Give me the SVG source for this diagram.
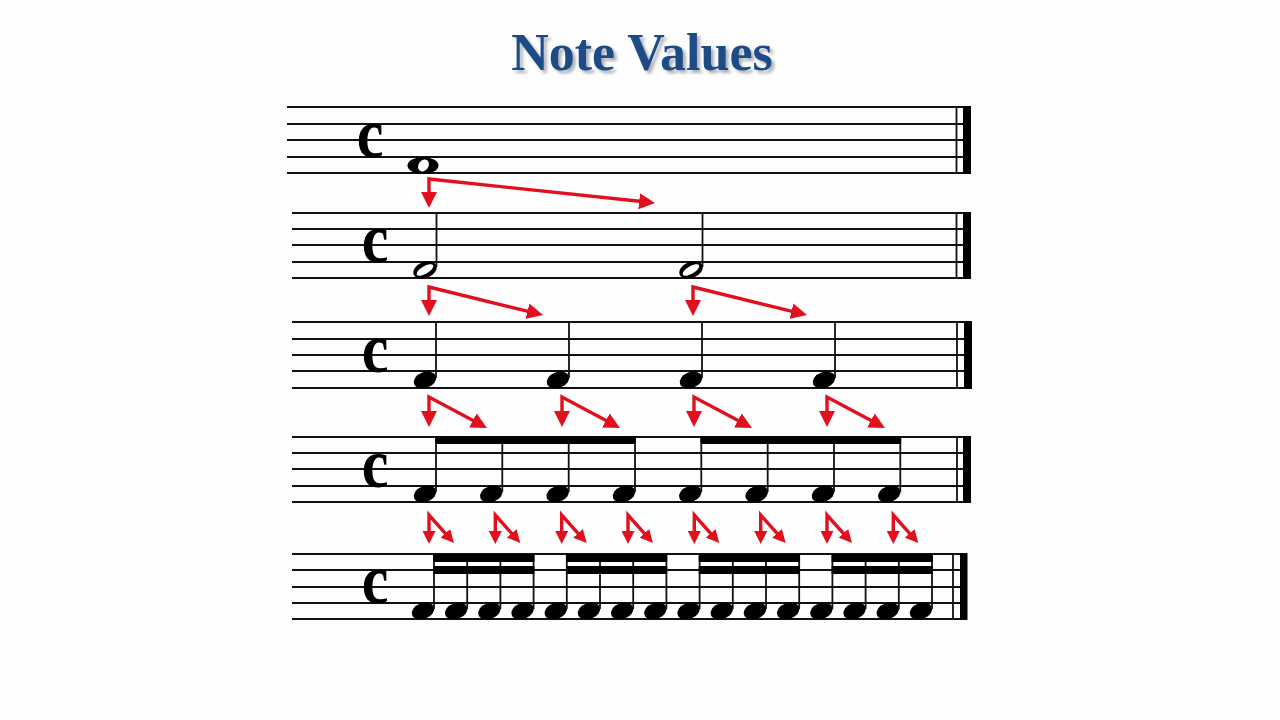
<svg xmlns="http://www.w3.org/2000/svg" xmlns:xlink="http://www.w3.org/1999/xlink" width="1280" height="720" viewBox="0 0 1280 720">
<defs>
<style>
.staff line{stroke:#111;stroke-width:1.8}
.stem{stroke:#000;stroke-width:1.7}
.thin{stroke:#000;stroke-width:2}
.thick{fill:#000}
.beam{fill:#000}
.tc{font-family:"Liberation Serif","Times New Roman",serif;font-weight:bold;font-size:70px;fill:#000}
.arr{fill:none;stroke:#E2101E;stroke-width:3.4;stroke-linejoin:miter}
.big{marker-start:url(#ah);marker-end:url(#ah)}
.sm{marker-start:url(#ahs);marker-end:url(#ahs)}
.title{font-family:"Liberation Serif","Times New Roman",serif;font-weight:bold;font-size:52px;fill:#1C4B86}
</style>
<filter id="shadow" x="-10%" y="-30%" width="120%" height="160%">
<feDropShadow dx="3" dy="3" stdDeviation="1.4" flood-color="#8a919c" flood-opacity="0.7"/>
</filter>
<marker id="ah" markerUnits="userSpaceOnUse" markerWidth="16" markerHeight="16" viewBox="0 0 16 16" refX="5" refY="8" orient="auto-start-reverse"><path d="M0,0 L16,8 L0,16 z" fill="#E2101E"/></marker>
<marker id="ahs" markerUnits="userSpaceOnUse" markerWidth="13" markerHeight="13" viewBox="0 0 13 13" refX="4" refY="6.5" orient="auto-start-reverse"><path d="M0,0 L13,6.5 L0,13 z" fill="#E2101E"/></marker>
<ellipse id="qh" cx="0" cy="0" rx="11.6" ry="8" transform="rotate(-20)" fill="#000"/>
<g id="hh"><ellipse cx="0" cy="0" rx="12.2" ry="8" transform="rotate(-22)" fill="#000"/><ellipse cx="0" cy="0" rx="9.4" ry="3.8" transform="rotate(-30)" fill="#fff"/></g>
</defs>
<rect width="1280" height="720" fill="#fefefe"/>

<g id="title"><text class="title" x="642" y="70" text-anchor="middle" filter="url(#shadow)">Note Values</text></g>

<g id="staff1" class="staff">
<line x1="287" y1="107" x2="971" y2="107"/><line x1="287" y1="124" x2="971" y2="124"/><line x1="287" y1="140" x2="971" y2="140"/><line x1="287" y1="157" x2="971" y2="157"/><line x1="287" y1="173" x2="971" y2="173"/>
<line class="thin" x1="956.5" y1="106.2" x2="956.5" y2="173.8"/><rect class="thick" x="963" y="106.2" width="8" height="67.6"/>
<text class="tc" transform="translate(370 157) scale(0.86 1)" text-anchor="middle">c</text>
<g id="whole"><ellipse cx="423" cy="165.5" rx="15.5" ry="8.6" fill="#000"/><ellipse cx="423.5" cy="165.5" rx="5" ry="6.4" transform="rotate(35 423.5 165.5)" fill="#fff"/></g>
</g>

<g id="staff2" class="staff">
<line x1="292" y1="213" x2="971" y2="213"/><line x1="292" y1="229" x2="971" y2="229"/><line x1="292" y1="245" x2="971" y2="245"/><line x1="292" y1="262" x2="971" y2="262"/><line x1="292" y1="278" x2="971" y2="278"/>
<line class="thin" x1="956.5" y1="212.2" x2="956.5" y2="278.8"/><rect class="thick" x="963" y="212.2" width="8" height="66.6"/>
<text class="tc" transform="translate(375 262) scale(0.86 1)" text-anchor="middle">c</text>
<g id="half1"><use href="#hh" x="425" y="270"/><line class="stem" x1="436.5" y1="213" x2="436.5" y2="267"/></g>
<g id="half2"><use href="#hh" x="691" y="270"/><line class="stem" x1="702.5" y1="213" x2="702.5" y2="267"/></g>
</g>

<g id="staff3" class="staff">
<line x1="292" y1="322" x2="972" y2="322"/><line x1="292" y1="339" x2="972" y2="339"/><line x1="292" y1="355" x2="972" y2="355"/><line x1="292" y1="371" x2="972" y2="371"/><line x1="292" y1="388" x2="972" y2="388"/>
<line class="thin" x1="957" y1="321.2" x2="957" y2="388.8"/><rect class="thick" x="964" y="321.2" width="8" height="67.6"/>
<text class="tc" transform="translate(375 372) scale(0.86 1)" text-anchor="middle">c</text>
<g id="quarters">
<use href="#qh" x="425" y="380"/><line class="stem" x1="436" y1="322" x2="436" y2="378"/>
<use href="#qh" x="558" y="380"/><line class="stem" x1="569" y1="322" x2="569" y2="378"/>
<use href="#qh" x="691" y="380"/><line class="stem" x1="702" y1="322" x2="702" y2="378"/>
<use href="#qh" x="824" y="380"/><line class="stem" x1="835" y1="322" x2="835" y2="378"/>
</g>
</g>

<g id="staff4" class="staff">
<line x1="292" y1="437" x2="971" y2="437"/><line x1="292" y1="453" x2="971" y2="453"/><line x1="292" y1="469" x2="971" y2="469"/><line x1="292" y1="486" x2="971" y2="486"/><line x1="292" y1="502" x2="971" y2="502"/>
<line class="thin" x1="957" y1="436.2" x2="957" y2="502.8"/><rect class="thick" x="963" y="436.2" width="8" height="66.6"/>
<text class="tc" transform="translate(375 487) scale(0.86 1)" text-anchor="middle">c</text>
<g id="eighths">
<use href="#qh" x="425" y="494"/><line class="stem" x1="436" y1="437" x2="436" y2="492"/>
<use href="#qh" x="491.3" y="494"/><line class="stem" x1="502.3" y1="437" x2="502.3" y2="492"/>
<use href="#qh" x="557.7" y="494"/><line class="stem" x1="568.7" y1="437" x2="568.7" y2="492"/>
<use href="#qh" x="624" y="494"/><line class="stem" x1="635" y1="437" x2="635" y2="492"/>
<rect class="beam" x="435.2" y="436.5" width="200.6" height="7.5"/>
<use href="#qh" x="690.3" y="494"/><line class="stem" x1="701.3" y1="437" x2="701.3" y2="492"/>
<use href="#qh" x="756.7" y="494"/><line class="stem" x1="767.7" y1="437" x2="767.7" y2="492"/>
<use href="#qh" x="823" y="494"/><line class="stem" x1="834" y1="437" x2="834" y2="492"/>
<use href="#qh" x="889.3" y="494"/><line class="stem" x1="900.3" y1="437" x2="900.3" y2="492"/>
<rect class="beam" x="700.5" y="436.5" width="200.6" height="7.5"/>
</g>
</g>

<g id="staff5" class="staff">
<line x1="292" y1="554" x2="967" y2="554"/><line x1="292" y1="570" x2="967" y2="570"/><line x1="292" y1="587" x2="967" y2="587"/><line x1="292" y1="603" x2="967" y2="603"/><line x1="292" y1="619" x2="967" y2="619"/>
<line class="thin" x1="953" y1="553.2" x2="953" y2="619.8"/><rect class="thick" x="960" y="553.2" width="7.5" height="66.6"/>
<text class="tc" transform="translate(375 603) scale(0.86 1)" text-anchor="middle">c</text>
<g id="sixteenths">
<use href="#qh" x="423" y="611"/><line class="stem" x1="434" y1="554" x2="434" y2="609"/>
<use href="#qh" x="456.2" y="611"/><line class="stem" x1="467.2" y1="554" x2="467.2" y2="609"/>
<use href="#qh" x="489.4" y="611"/><line class="stem" x1="500.4" y1="554" x2="500.4" y2="609"/>
<use href="#qh" x="522.6" y="611"/><line class="stem" x1="533.6" y1="554" x2="533.6" y2="609"/>
<rect class="beam" x="433.2" y="554" width="101.2" height="8"/><rect class="beam" x="433.2" y="566" width="101.2" height="8"/>
<use href="#qh" x="555.8" y="611"/><line class="stem" x1="566.8" y1="554" x2="566.8" y2="609"/>
<use href="#qh" x="589" y="611"/><line class="stem" x1="600" y1="554" x2="600" y2="609"/>
<use href="#qh" x="622.2" y="611"/><line class="stem" x1="633.2" y1="554" x2="633.2" y2="609"/>
<use href="#qh" x="655.4" y="611"/><line class="stem" x1="666.4" y1="554" x2="666.4" y2="609"/>
<rect class="beam" x="566" y="554" width="101.2" height="8"/><rect class="beam" x="566" y="566" width="101.2" height="8"/>
<use href="#qh" x="688.6" y="611"/><line class="stem" x1="699.6" y1="554" x2="699.6" y2="609"/>
<use href="#qh" x="721.8" y="611"/><line class="stem" x1="732.8" y1="554" x2="732.8" y2="609"/>
<use href="#qh" x="755" y="611"/><line class="stem" x1="766" y1="554" x2="766" y2="609"/>
<use href="#qh" x="788.2" y="611"/><line class="stem" x1="799.2" y1="554" x2="799.2" y2="609"/>
<rect class="beam" x="698.8" y="554" width="101.2" height="8"/><rect class="beam" x="698.8" y="566" width="101.2" height="8"/>
<use href="#qh" x="821.4" y="611"/><line class="stem" x1="832.4" y1="554" x2="832.4" y2="609"/>
<use href="#qh" x="854.6" y="611"/><line class="stem" x1="865.6" y1="554" x2="865.6" y2="609"/>
<use href="#qh" x="887.8" y="611"/><line class="stem" x1="898.8" y1="554" x2="898.8" y2="609"/>
<use href="#qh" x="921" y="611"/><line class="stem" x1="932" y1="554" x2="932" y2="609"/>
<rect class="beam" x="831.6" y="554" width="101.2" height="8"/><rect class="beam" x="831.6" y="566" width="101.2" height="8"/>
</g>
</g>

<g id="connectors">
<path class="arr big" d="M429,197 L429,179 L644.1,201.8"/>
<path class="arr big" d="M429,305 L429,287 L532.3,312.4"/>
<path class="arr big" d="M693,305 L693,287 L796.3,312.4"/>
<path class="arr big" d="M429,416 L429,397 L477.3,422.8"/>
<path class="arr big" d="M562,416 L562,397 L610.3,422.8"/>
<path class="arr big" d="M694,416 L694,397 L742.3,422.8"/>
<path class="arr big" d="M827,416 L827,397 L875.3,422.8"/>
<path class="arr sm" d="M429,535 L429,515 L448,536.3"/>
<path class="arr sm" d="M495.3,535 L495.3,515 L514.3,536.3"/>
<path class="arr sm" d="M561.7,535 L561.7,515 L580.7,536.3"/>
<path class="arr sm" d="M628,535 L628,515 L647,536.3"/>
<path class="arr sm" d="M694.3,535 L694.3,515 L713.3,536.3"/>
<path class="arr sm" d="M760.7,535 L760.7,515 L779.7,536.3"/>
<path class="arr sm" d="M827,535 L827,515 L846,536.3"/>
<path class="arr sm" d="M893.3,535 L893.3,515 L912.3,536.3"/>
</g>
</svg>
